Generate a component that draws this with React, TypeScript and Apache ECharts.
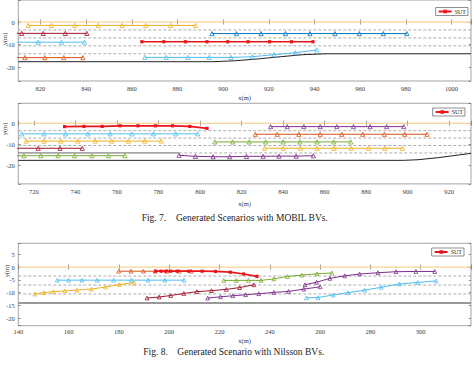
import React, { useEffect, useRef } from 'react';
import * as echarts from 'echarts';

const FONT = '"Liberation Serif", "Times New Roman", Times, serif';
const LABEL = '#3a3a3a';

// MATLAB default colour order
const BLUE = '#0072BD';
const ORANGE = '#D95319';
const YELLOW = '#EDB120';
const PURPLE = '#7E2F8E';
const GREEN = '#77AC30';
const CYAN = '#4DBEEE';
const DARKRED = '#A2142F';
const SUT_RED = '#E8161A';

const ROAD_EDGE = '#F2C879';
const LANE_DASH = '#8A8A8A';

// ================= Fig. 7, top panel =================
const xLimA = [810.3, 1008.5];
const yLimA = [-26, 9.7];
const xTicksA = [820, 840, 860, 880, 900, 920, 940, 960, 980, 1000];
const yTicksA = [-20, -10, 0];
const lanesA = [-3.5, -7, -10.5];
const mergeDashXA = [810.3, 945];
const mergeDashYA = [-14, -14];
const bottomAX = [810.3, 895, 905, 915, 925, 935, 945, 1008.5];
const bottomAY = [-17.5, -17.5, -17.1, -16.3, -15.3, -14.4, -14.0, -14.0];

const sutAX = [864.4, 874.0, 883.5, 892.9, 902.0, 910.9, 920.3, 929.9, 939.3];
const sutAY = [-8.7, -8.7, -8.7, -8.7, -8.7, -8.7, -8.7, -8.7, -8.7];
const yelAX = [814.6, 824.8, 835.0, 845.3, 855.7, 866.1, 877.0, 887.9];
const yelAY = [-1.5, -1.5, -1.5, -1.5, -1.5, -1.5, -1.5, -1.5];
const drdAX = [802.4, 811.8, 821.2, 830.9, 840.3];
const drdAY = [-5.0, -5.0, -5.0, -5.0, -5.0];
const cy1AX = [808.9, 819.0, 829.2, 839.3];
const cy1AY = [-8.9, -8.9, -8.9, -8.9];
const ornAX = [804.9, 813.2, 821.9, 830.2, 838.6];
const ornAY = [-15.7, -15.7, -15.7, -15.7, -15.7];
const bluAX = [895.1, 905.8, 916.6, 927.3, 938.0, 948.9, 959.6, 970.1, 980.4];
const bluAY = [-5.1, -5.1, -5.1, -5.1, -5.1, -5.1, -5.1, -5.1, -5.1];
const cy2AX = [865.7, 875.1, 884.5, 893.9, 903.4, 912.8, 922.2, 931.6, 941.0];
const cy2AY = [-15.6, -15.6, -15.6, -15.6, -15.6, -15.3, -14.4, -13.5, -12.3];

// ================= Fig. 7, bottom panel =================
const xLimB = [712.5, 930.5];
const yLimB = [-28.6, 9.4];
const xTicksB = [720, 740, 760, 780, 800, 820, 840, 860, 880, 900, 920];
const yTicksB = [-20, -10, 0];
const lanesB = [-3.5, -7, -10.5];
const mergeSolidXB = [712.5, 790];
const mergeSolidYB = [-14, -14];
const mergeDashXB = [790, 930.5];
const mergeDashYB = [-14, -14];
const bottomBX = [712.5, 898, 905, 915, 925, 930.5];
const bottomBY = [-17.5, -17.5, -17.2, -16.2, -14.9, -14.2];

const sutBX = [734.8, 744.1, 752.9, 761.5, 770.1, 778.5, 786.8, 795.1, 803.4];
const sutBY = [-1.6, -1.5, -1.5, -1.2, -1.2, -1.2, -1.2, -1.5, -2.4];
const cy1BX = [714.1, 724.8, 735.3, 746.0, 756.7, 767.2, 777.6, 788.3, 798.9];
const cy1BY = [-5.0, -5.0, -5.0, -5.0, -5.0, -5.0, -5.0, -5.0, -5.0];
const ye1BX = [716.2, 724.9, 732.9, 741.2, 749.5, 757.5, 765.5, 773.4, 781.4];
const ye1BY = [-8.4, -8.4, -8.4, -8.4, -8.4, -8.4, -8.4, -8.4, -8.4];
const drdBX = [711.5, 722.1, 732.6, 743.3];
const drdBY = [-11.8, -11.8, -11.8, -11.8];
const gr1BX = [707.0, 715.2, 723.3, 731.6, 739.6, 747.9, 755.9, 763.9];
const gr1BY = [-15.3, -15.3, -15.3, -15.3, -15.3, -15.3, -15.3, -15.3];
const pu1BX = [789.9, 797.8, 806.3, 814.3, 822.4, 830.4, 838.0, 846.3, 854.6];
const pu1BY = [-15.1, -15.6, -15.8, -15.8, -15.6, -15.6, -15.5, -15.5, -15.3];
const gr2BX = [807.1, 815.7, 823.7, 831.6, 840.0, 848.1, 856.4, 864.4, 872.6];
const gr2BY = [-8.8, -8.8, -8.8, -8.8, -8.8, -8.8, -8.8, -8.8, -8.8];
const pu2BX = [834.0, 842.0, 850.0, 857.9, 865.9, 873.9, 881.9, 889.9, 898.1];
const pu2BY = [-1.6, -1.6, -1.6, -1.6, -1.6, -1.6, -1.6, -1.6, -1.6];
const ornBX = [826.6, 837.2, 847.6, 857.9, 868.3, 878.4, 888.8, 898.6, 909.3];
const ornBY = [-5.2, -5.2, -5.2, -5.2, -5.2, -5.2, -5.2, -5.2, -5.2];
const ye2BX = [831.1, 840.1, 848.4, 856.4, 864.6, 872.8, 881.1, 889.0, 897.5];
const ye2BY = [-11.8, -11.8, -11.8, -11.8, -11.8, -11.8, -11.8, -11.8, -11.8];

// ================= Fig. 8 =================
const xLimC = [140, 320];
const yLimC = [-22.9, 9.3];
const xTicksC = [140, 160, 180, 200, 220, 240, 260, 280, 300];
const yTicksC = [-20, -15, -10, -5, 0, 5];
const lanesC = [-3.5, -7, -10.5];
const bottomCX = [140, 320];
const bottomCY = [-14, -14];

const sutCX = [194.6, 196.8, 198.6, 200.6, 203.2, 207.8, 213.1, 218.4, 224.3, 229.6, 234.9];
const sutCY = [-1.6, -1.6, -1.6, -1.6, -1.6, -1.6, -1.6, -1.7, -2.0, -2.7, -3.6];
const ornCX = [179.9, 184.8, 189.7, 194.4, 199.2, 204.0, 208.8];
const ornCY = [-1.6, -1.6, -1.6, -1.6, -1.6, -1.6, -1.6];
const cy1CX = [155.5, 160.0, 165.3, 171.4, 177.9, 185.0, 191.6, 198.3, 205.9];
const cy1CY = [-5.1, -5.1, -5.1, -5.1, -5.1, -5.1, -5.1, -5.1, -5.1];
const yelCX = [146.6, 150.2, 153.9, 158.5, 163.3, 169.0, 174.7, 180.2, 186.1];
const yelCY = [-10.5, -10.0, -9.6, -9.3, -9.0, -8.6, -7.8, -6.8, -6.1];
const drdCX = [191.2, 196.0, 200.6, 205.8, 211.0, 216.8, 222.7, 228.0, 233.7];
const drdCY = [-12.1, -11.7, -11.1, -10.3, -9.6, -9.2, -8.7, -8.0, -6.9];
const grnCX = [221.7, 226.7, 231.5, 236.5, 241.6, 247.0, 252.8, 258.8, 264.7];
const grnCY = [-5.2, -5.2, -5.2, -5.2, -4.6, -3.7, -3.1, -2.6, -2.3];
const pu1CX = [215.3, 220.4, 225.3, 230.4, 235.6, 241.6, 247.4, 253.5, 260.0];
const pu1CY = [-12.1, -11.6, -11.2, -10.8, -10.4, -9.9, -9.5, -8.6, -7.7];
const pu2CX = [254.0, 258.6, 263.9, 269.8, 275.7, 283.0, 290.2, 298.1, 305.6];
const pu2CY = [-6.9, -5.9, -4.4, -3.4, -2.7, -2.2, -1.8, -1.7, -1.7];
const cy2CX = [254.6, 259.2, 265.2, 271.1, 277.7, 284.3, 291.5, 298.8, 306.1];
const cy2CY = [-12.0, -11.9, -10.9, -10.0, -9.0, -7.9, -6.6, -6.0, -5.4];

// ---------------- helpers ----------------
const zip = (xs: number[], ys: number[]) => xs.map((x, i) => [x, ys[i]]);

function bv(g: number, xs: number[], ys: number[], color: string, size = 4.2) {
  return {
    type: 'line',
    xAxisIndex: g,
    yAxisIndex: g,
    data: zip(xs, ys),
    symbol: 'triangle',
    symbolSize: size,
    lineStyle: { color, width: 1.0 },
    itemStyle: { color: 'transparent', borderColor: color, borderWidth: 0.8 },
    silent: true,
    z: 3,
  };
}

function sut(g: number, xs: number[], ys: number[]) {
  return {
    type: 'line',
    name: 'SUT',
    xAxisIndex: g,
    yAxisIndex: g,
    data: zip(xs, ys),
    symbol: 'rect',
    symbolSize: 3.2,
    lineStyle: { color: SUT_RED, width: 1.7 },
    itemStyle: { color: SUT_RED },
    silent: true,
    z: 4,
  };
}

function road(g: number, xs: number[], ys: number[], color: string, width: number, type: any = 'solid') {
  return {
    type: 'line',
    xAxisIndex: g,
    yAxisIndex: g,
    data: zip(xs, ys),
    symbol: 'none',
    lineStyle: { color, width, type },
    silent: true,
    z: 1,
  };
}

const tickFmt = (ticks: number[]) => (v: number) => {
  const t = ticks.find((k) => Math.abs(k - v) < 1e-6);
  return t === undefined ? '' : String(t);
};

const tickStyle = { inside: true, length: 2.5, lineStyle: { color: '#555', width: 0.6 } };
const labelBase = { fontSize: 6.5, fontFamily: FONT, color: LABEL };

function xBottom(g: number, lim: number[], ticks: number[], split: number, margin: number, nameGap: number) {
  return {
    type: 'value',
    gridIndex: g,
    position: 'bottom',
    min: lim[0],
    max: lim[1],
    splitNumber: split,
    axisLine: { show: false },
    splitLine: { show: false },
    axisTick: tickStyle,
    axisLabel: { ...labelBase, margin, showMinLabel: true, showMaxLabel: true, formatter: tickFmt(ticks) },
    name: 'x(m)',
    nameLocation: 'middle',
    nameGap,
    nameTextStyle: { fontSize: 6.5, fontFamily: FONT, color: LABEL },
  };
}
function xTop(g: number, lim: number[], split: number) {
  return {
    type: 'value',
    gridIndex: g,
    position: 'top',
    min: lim[0],
    max: lim[1],
    splitNumber: split,
    axisLine: { show: false },
    splitLine: { show: false },
    axisTick: tickStyle,
    axisLabel: { show: false },
  };
}
function yLeft(g: number, lim: number[], ticks: number[], split: number) {
  return {
    type: 'value',
    gridIndex: g,
    position: 'left',
    min: lim[0],
    max: lim[1],
    splitNumber: split,
    axisLine: { show: false },
    splitLine: { show: false },
    axisTick: tickStyle,
    axisLabel: { ...labelBase, margin: 3.5, formatter: tickFmt(ticks) },
  };
}
function yRight(g: number, lim: number[], split: number) {
  return {
    type: 'value',
    gridIndex: g,
    position: 'right',
    min: lim[0],
    max: lim[1],
    splitNumber: split,
    axisLine: { show: false },
    splitLine: { show: false },
    axisTick: tickStyle,
    axisLabel: { show: false },
  };
}

function legendAt(top: number, right: number) {
  return {
    data: ['SUT'],
    top,
    right,
    orient: 'horizontal',
    selectedMode: false,
    itemWidth: 13,
    itemHeight: 4.5,
    itemGap: 0,
    padding: [1, 2, 1, 2],
    borderColor: '#444',
    borderWidth: 0.6,
    borderRadius: 0,
    backgroundColor: '#fff',
    textStyle: { fontSize: 6, fontFamily: FONT, color: '#222', padding: [0, 0, 0, -2] },
  };
}

const caption = (x: number, y: number, text: string) => ({
  type: 'text',
  x,
  y,
  style: { text, fontSize: 9.5, fontFamily: FONT, fill: '#222', verticalAlign: 'middle', align: 'left' },
});
const yName = (x: number, y: number) => ({
  type: 'text',
  x,
  y,
  rotation: Math.PI / 2,
  style: { text: 'y(m)', fontSize: 6.5, fontFamily: FONT, fill: LABEL, align: 'center', verticalAlign: 'middle' },
});

function buildOption() {
  const gridStyle = { show: true, borderColor: '#666', borderWidth: 0.6, backgroundColor: 'transparent' };
  return {
    animation: false,
    backgroundColor: '#ffffff',
    grid: [
      { ...gridStyle, left: 18.3, top: -1.1, width: 455.9, height: 82.1 },
      { ...gridStyle, left: 18.3, top: 103.3, width: 455.6, height: 80.6 },
      { ...gridStyle, left: 18.3, top: 243.3, width: 455.4, height: 82.4 },
    ],
    xAxis: [
      xBottom(0, xLimA, xTicksA, 10, 4, 12.5),
      xBottom(1, xLimB, xTicksB, 10, 4.3, 16),
      xBottom(2, xLimC, xTicksC, 9, 1.8, 11),
      xTop(0, xLimA, 10),
      xTop(1, xLimB, 10),
      xTop(2, xLimC, 9),
    ],
    yAxis: [
      yLeft(0, yLimA, yTicksA, 4),
      yLeft(1, yLimB, yTicksB, 4),
      yLeft(2, yLimC, yTicksC, 6),
      yRight(0, yLimA, 4),
      yRight(1, yLimB, 4),
      yRight(2, yLimC, 6),
    ],
    legend: [legendAt(7.5, 6), legendAt(108, 9), legendAt(248, 10)],
    graphic: [
      yName(4, 39),
      yName(4, 129),
      yName(6, 271),
      caption(141.7, 218, 'Fig. 7.'),
      caption(176, 218, 'Generated Scenarios with MOBIL BVs.'),
      caption(143.3, 352, 'Fig. 8.'),
      caption(177.3, 352, 'Generated Scenario with Nilsson BVs.'),
    ],
    series: [
      // ---- panel A road ----
      road(0, xLimA, [0, 0], ROAD_EDGE, 1),
      ...lanesA.map((y) => road(0, xLimA, [y, y], LANE_DASH, 0.7, [3, 2])),
      road(0, mergeDashXA, mergeDashYA, LANE_DASH, 0.7, [3, 2]),
      road(0, bottomAX, bottomAY, '#222', 1),
      // ---- panel A vehicles ----
      bv(0, yelAX, yelAY, YELLOW),
      bv(0, drdAX, drdAY, DARKRED),
      bv(0, cy1AX, cy1AY, CYAN),
      bv(0, ornAX, ornAY, ORANGE),
      bv(0, bluAX, bluAY, BLUE),
      bv(0, cy2AX, cy2AY, CYAN),
      sut(0, sutAX, sutAY),
      // ---- panel B road ----
      road(1, xLimB, [0, 0], ROAD_EDGE, 1),
      ...lanesB.map((y) => road(1, xLimB, [y, y], LANE_DASH, 0.7, [3, 2])),
      road(1, mergeSolidXB, mergeSolidYB, '#555', 0.9),
      road(1, mergeDashXB, mergeDashYB, LANE_DASH, 0.7, [3, 2]),
      road(1, bottomBX, bottomBY, '#222', 1),
      // ---- panel B vehicles ----
      bv(1, cy1BX, cy1BY, CYAN),
      bv(1, ye1BX, ye1BY, YELLOW),
      bv(1, drdBX, drdBY, DARKRED),
      bv(1, gr1BX, gr1BY, GREEN),
      bv(1, pu1BX, pu1BY, PURPLE),
      bv(1, gr2BX, gr2BY, GREEN),
      bv(1, pu2BX, pu2BY, PURPLE),
      bv(1, ornBX, ornBY, ORANGE),
      bv(1, ye2BX, ye2BY, YELLOW),
      sut(1, sutBX, sutBY),
      // ---- panel C road ----
      road(2, xLimC, [0, 0], ROAD_EDGE, 1),
      ...lanesC.map((y) => road(2, xLimC, [y, y], LANE_DASH, 0.7, [3, 2])),
      road(2, bottomCX, bottomCY, '#999', 2),
      // ---- panel C vehicles ----
      bv(2, ornCX, ornCY, ORANGE, 3.8),
      bv(2, cy1CX, cy1CY, CYAN, 3.8),
      bv(2, yelCX, yelCY, YELLOW, 3.8),
      bv(2, drdCX, drdCY, DARKRED, 3.8),
      bv(2, grnCX, grnCY, GREEN, 3.8),
      bv(2, pu1CX, pu1CY, PURPLE, 3.8),
      bv(2, pu2CX, pu2CY, PURPLE, 3.8),
      bv(2, cy2CX, cy2CY, CYAN, 3.8),
      sut(2, sutCX, sutCY),
    ],
  };
}

export default function App() {
  const ref = useRef<HTMLDivElement>(null);
  useEffect(() => {
    if (!ref.current) return;
    const chart = echarts.init(ref.current, undefined, { renderer: 'svg' });
    chart.setOption(buildOption() as any);
    return () => chart.dispose();
  }, []);
  return (
    <div
      ref={ref}
      style={{ position: 'absolute', left: 0, top: 0, width: 474, height: 367, background: '#fff' }}
    />
  );
}
